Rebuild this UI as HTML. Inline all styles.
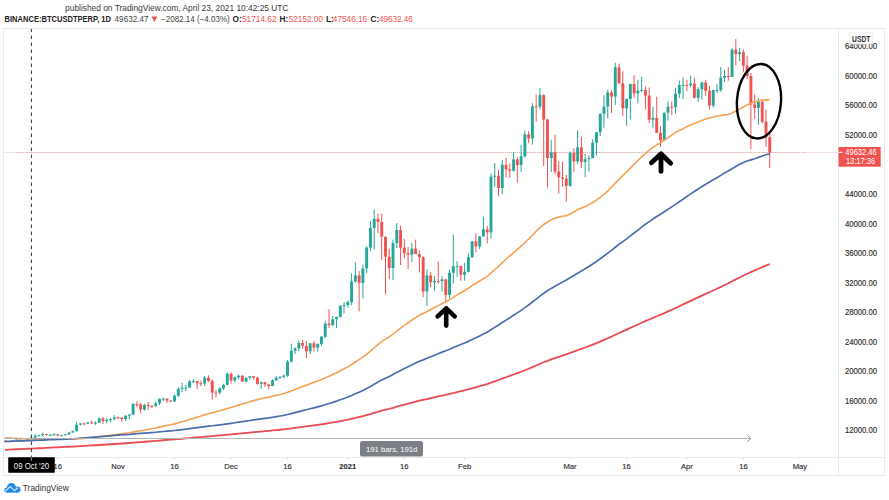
<!DOCTYPE html>
<html><head><meta charset="utf-8"><style>
html,body{margin:0;padding:0;background:#fff;width:889px;height:500px;overflow:hidden}
svg{position:absolute;left:0;top:0}
text{font-family:"Liberation Sans", sans-serif}
</style></head><body>
<svg width="889" height="500" viewBox="0 0 889 500">
<rect x="0" y="0" width="889" height="500" fill="#fff"/>
<text x="65.1" y="10.8" font-size="8.36" fill="#3a3a3a" textLength="223.4" lengthAdjust="spacingAndGlyphs">published on TradingView.com, April 23, 2021 10:42:25 UTC</text>
<g font-size="8.3" fill="#222">
<text x="4.5" y="21.8" font-weight="700" font-size="8.3" textLength="106.5" lengthAdjust="spacingAndGlyphs">BINANCE:BTCUSDTPERP, 1D</text>
<text x="114.6" y="22" fill="#444" textLength="33.9" lengthAdjust="spacingAndGlyphs">49632.47</text>
<path d="M151.5,16.6 L157.4,16.6 L154.45,22 Z" fill="#ef5350"/>
<text x="161" y="22" fill="#444" textLength="68.8" lengthAdjust="spacingAndGlyphs">−2082.14 (−4.03%)</text>
<text x="232.5" y="22" font-weight="700">O:</text><text x="241.9" y="22" fill="#ef5350" textLength="34.7" lengthAdjust="spacingAndGlyphs">51714.62</text>
<text x="279.6" y="22" font-weight="700">H:</text><text x="288.7" y="22" fill="#ef5350" textLength="34.3" lengthAdjust="spacingAndGlyphs">52152.00</text>
<text x="326" y="22" font-weight="700">L:</text><text x="332.8" y="22" fill="#ef5350" textLength="34.4" lengthAdjust="spacingAndGlyphs">47546.16</text>
<text x="370.6" y="22" font-weight="700">C:</text><text x="379" y="22" fill="#ef5350" textLength="33.7" lengthAdjust="spacingAndGlyphs">49632.46</text>
</g>
<rect x="3.5" y="28.5" width="881.0" height="447.0" fill="none" stroke="#eaeaea" stroke-width="1"/>
<line x1="838.5" y1="28.5" x2="838.5" y2="475.5" stroke="#eaeaea"/>
<line x1="3.5" y1="457.5" x2="884.5" y2="457.5" stroke="#eaeaea"/>
<defs><clipPath id="cp"><rect x="4.0" y="29.0" width="834.0" height="428.0"/></clipPath></defs>
<g clip-path="url(#cp)">
<line x1="3.5" y1="152.5" x2="838.5" y2="152.5" stroke="#f3e4e4"/>
<line x1="17" y1="152.5" x2="806" y2="152.5" stroke="#e2b2b2" stroke-dasharray="1,1"/>
<line x1="5.03" y1="440.43" x2="5.03" y2="442.64" stroke="#ef5350" stroke-width="1"/><rect x="3.58" y="440.79" width="2.9" height="1.00" fill="#ef5350"/><line x1="8.80" y1="440.94" x2="8.80" y2="441.68" stroke="#ef5350" stroke-width="1"/><rect x="7.35" y="441.16" width="2.9" height="1.00" fill="#ef5350"/><line x1="12.56" y1="440.28" x2="12.56" y2="441.46" stroke="#26a69a" stroke-width="1"/><rect x="11.11" y="440.43" width="2.9" height="1.00" fill="#26a69a"/><line x1="16.33" y1="439.46" x2="16.33" y2="440.72" stroke="#26a69a" stroke-width="1"/><rect x="14.88" y="439.54" width="2.9" height="1.00" fill="#26a69a"/><line x1="20.10" y1="439.46" x2="20.10" y2="441.46" stroke="#ef5350" stroke-width="1"/><rect x="18.65" y="439.54" width="2.9" height="1.40" fill="#ef5350"/><line x1="23.87" y1="440.35" x2="23.87" y2="441.24" stroke="#26a69a" stroke-width="1"/><rect x="22.42" y="440.43" width="2.9" height="1.00" fill="#26a69a"/><line x1="27.63" y1="438.28" x2="27.63" y2="441.46" stroke="#26a69a" stroke-width="1"/><rect x="26.18" y="438.58" width="2.9" height="1.85" fill="#26a69a"/><line x1="31.40" y1="437.17" x2="31.40" y2="439.24" stroke="#26a69a" stroke-width="1"/><rect x="29.95" y="437.62" width="2.9" height="1.00" fill="#26a69a"/><line x1="35.17" y1="434.44" x2="35.17" y2="437.62" stroke="#26a69a" stroke-width="1"/><rect x="33.72" y="435.77" width="2.9" height="1.85" fill="#26a69a"/><line x1="38.93" y1="434.74" x2="38.93" y2="435.99" stroke="#26a69a" stroke-width="1"/><rect x="37.48" y="435.18" width="2.9" height="1.00" fill="#26a69a"/><line x1="42.70" y1="432.59" x2="42.70" y2="436.29" stroke="#26a69a" stroke-width="1"/><rect x="41.25" y="434.00" width="2.9" height="1.18" fill="#26a69a"/><line x1="46.47" y1="433.85" x2="46.47" y2="435.77" stroke="#ef5350" stroke-width="1"/><rect x="45.02" y="434.00" width="2.9" height="1.00" fill="#ef5350"/><line x1="50.23" y1="433.92" x2="50.23" y2="435.99" stroke="#26a69a" stroke-width="1"/><rect x="48.78" y="434.81" width="2.9" height="1.00" fill="#26a69a"/><line x1="54.00" y1="433.33" x2="54.00" y2="435.99" stroke="#26a69a" stroke-width="1"/><rect x="52.55" y="434.29" width="2.9" height="1.00" fill="#26a69a"/><line x1="57.77" y1="434.00" x2="57.77" y2="436.36" stroke="#ef5350" stroke-width="1"/><rect x="56.32" y="434.29" width="2.9" height="1.26" fill="#ef5350"/><line x1="61.54" y1="435.03" x2="61.54" y2="435.77" stroke="#26a69a" stroke-width="1"/><rect x="60.09" y="435.25" width="2.9" height="1.00" fill="#26a69a"/><line x1="65.30" y1="434.29" x2="65.30" y2="435.40" stroke="#26a69a" stroke-width="1"/><rect x="63.85" y="434.29" width="2.9" height="1.00" fill="#26a69a"/><line x1="69.07" y1="432.08" x2="69.07" y2="435.03" stroke="#26a69a" stroke-width="1"/><rect x="67.62" y="432.45" width="2.9" height="1.85" fill="#26a69a"/><line x1="72.84" y1="430.38" x2="72.84" y2="432.89" stroke="#26a69a" stroke-width="1"/><rect x="71.39" y="431.26" width="2.9" height="1.18" fill="#26a69a"/><line x1="76.60" y1="421.74" x2="76.60" y2="431.34" stroke="#26a69a" stroke-width="1"/><rect x="75.15" y="424.69" width="2.9" height="6.57" fill="#26a69a"/><line x1="80.37" y1="423.06" x2="80.37" y2="425.43" stroke="#26a69a" stroke-width="1"/><rect x="78.92" y="423.43" width="2.9" height="1.26" fill="#26a69a"/><line x1="84.14" y1="422.99" x2="84.14" y2="425.21" stroke="#ef5350" stroke-width="1"/><rect x="82.69" y="423.43" width="2.9" height="1.00" fill="#ef5350"/><line x1="87.91" y1="421.96" x2="87.91" y2="424.03" stroke="#26a69a" stroke-width="1"/><rect x="86.45" y="422.40" width="2.9" height="1.33" fill="#26a69a"/><line x1="91.67" y1="420.63" x2="91.67" y2="423.95" stroke="#ef5350" stroke-width="1"/><rect x="90.22" y="422.40" width="2.9" height="1.00" fill="#ef5350"/><line x1="95.44" y1="421.37" x2="95.44" y2="424.84" stroke="#26a69a" stroke-width="1"/><rect x="93.99" y="422.70" width="2.9" height="1.00" fill="#26a69a"/><line x1="99.21" y1="417.38" x2="99.21" y2="422.77" stroke="#26a69a" stroke-width="1"/><rect x="97.76" y="418.48" width="2.9" height="4.21" fill="#26a69a"/><line x1="102.97" y1="416.86" x2="102.97" y2="423.95" stroke="#ef5350" stroke-width="1"/><rect x="101.52" y="418.48" width="2.9" height="2.66" fill="#ef5350"/><line x1="106.74" y1="418.41" x2="106.74" y2="423.29" stroke="#26a69a" stroke-width="1"/><rect x="105.29" y="419.81" width="2.9" height="1.33" fill="#26a69a"/><line x1="110.51" y1="418.12" x2="110.51" y2="422.33" stroke="#26a69a" stroke-width="1"/><rect x="109.06" y="419.08" width="2.9" height="1.00" fill="#26a69a"/><line x1="114.27" y1="415.09" x2="114.27" y2="420.11" stroke="#26a69a" stroke-width="1"/><rect x="112.82" y="417.30" width="2.9" height="1.77" fill="#26a69a"/><line x1="118.04" y1="416.56" x2="118.04" y2="418.93" stroke="#ef5350" stroke-width="1"/><rect x="116.59" y="417.30" width="2.9" height="1.00" fill="#ef5350"/><line x1="121.81" y1="417.15" x2="121.81" y2="421.74" stroke="#ef5350" stroke-width="1"/><rect x="120.36" y="417.60" width="2.9" height="1.55" fill="#ef5350"/><line x1="125.57" y1="415.31" x2="125.57" y2="421.07" stroke="#26a69a" stroke-width="1"/><rect x="124.12" y="415.68" width="2.9" height="3.47" fill="#26a69a"/><line x1="129.34" y1="413.90" x2="129.34" y2="419.37" stroke="#26a69a" stroke-width="1"/><rect x="127.89" y="414.72" width="2.9" height="1.00" fill="#26a69a"/><line x1="133.11" y1="402.90" x2="133.11" y2="415.16" stroke="#26a69a" stroke-width="1"/><rect x="131.66" y="404.08" width="2.9" height="10.64" fill="#26a69a"/><line x1="136.88" y1="401.27" x2="136.88" y2="407.11" stroke="#ef5350" stroke-width="1"/><rect x="135.43" y="404.08" width="2.9" height="1.00" fill="#ef5350"/><line x1="140.64" y1="402.82" x2="140.64" y2="413.31" stroke="#ef5350" stroke-width="1"/><rect x="139.19" y="404.30" width="2.9" height="5.32" fill="#ef5350"/><line x1="144.41" y1="403.64" x2="144.41" y2="410.65" stroke="#26a69a" stroke-width="1"/><rect x="142.96" y="404.89" width="2.9" height="4.73" fill="#26a69a"/><line x1="148.18" y1="402.16" x2="148.18" y2="409.92" stroke="#ef5350" stroke-width="1"/><rect x="146.73" y="404.89" width="2.9" height="1.11" fill="#ef5350"/><line x1="151.94" y1="405.04" x2="151.94" y2="407.85" stroke="#ef5350" stroke-width="1"/><rect x="150.49" y="406.00" width="2.9" height="1.00" fill="#ef5350"/><line x1="155.71" y1="401.42" x2="155.71" y2="406.37" stroke="#26a69a" stroke-width="1"/><rect x="154.26" y="403.27" width="2.9" height="2.95" fill="#26a69a"/><line x1="159.48" y1="398.46" x2="159.48" y2="405.11" stroke="#26a69a" stroke-width="1"/><rect x="158.03" y="398.91" width="2.9" height="4.36" fill="#26a69a"/><line x1="163.25" y1="397.50" x2="163.25" y2="401.42" stroke="#26a69a" stroke-width="1"/><rect x="161.80" y="398.61" width="2.9" height="1.00" fill="#26a69a"/><line x1="167.01" y1="398.54" x2="167.01" y2="403.27" stroke="#ef5350" stroke-width="1"/><rect x="165.56" y="398.61" width="2.9" height="1.92" fill="#ef5350"/><line x1="170.78" y1="400.02" x2="170.78" y2="402.08" stroke="#ef5350" stroke-width="1"/><rect x="169.33" y="400.53" width="2.9" height="1.00" fill="#ef5350"/><line x1="174.55" y1="394.55" x2="174.55" y2="402.01" stroke="#26a69a" stroke-width="1"/><rect x="173.10" y="395.66" width="2.9" height="5.61" fill="#26a69a"/><line x1="178.31" y1="387.31" x2="178.31" y2="396.99" stroke="#26a69a" stroke-width="1"/><rect x="176.86" y="388.79" width="2.9" height="6.87" fill="#26a69a"/><line x1="182.08" y1="382.73" x2="182.08" y2="392.04" stroke="#26a69a" stroke-width="1"/><rect x="180.63" y="387.75" width="2.9" height="1.03" fill="#26a69a"/><line x1="185.85" y1="384.95" x2="185.85" y2="391.08" stroke="#26a69a" stroke-width="1"/><rect x="184.40" y="387.60" width="2.9" height="1.00" fill="#26a69a"/><line x1="189.61" y1="380.22" x2="189.61" y2="387.97" stroke="#26a69a" stroke-width="1"/><rect x="188.16" y="381.25" width="2.9" height="6.35" fill="#26a69a"/><line x1="193.38" y1="379.11" x2="193.38" y2="383.25" stroke="#26a69a" stroke-width="1"/><rect x="191.93" y="381.10" width="2.9" height="1.00" fill="#26a69a"/><line x1="197.15" y1="380.73" x2="197.15" y2="389.08" stroke="#ef5350" stroke-width="1"/><rect x="195.70" y="381.10" width="2.9" height="2.07" fill="#ef5350"/><line x1="200.91" y1="380.59" x2="200.91" y2="386.27" stroke="#ef5350" stroke-width="1"/><rect x="199.47" y="383.17" width="2.9" height="1.00" fill="#ef5350"/><line x1="204.68" y1="375.78" x2="204.68" y2="386.13" stroke="#26a69a" stroke-width="1"/><rect x="203.23" y="377.71" width="2.9" height="5.84" fill="#26a69a"/><line x1="208.45" y1="375.34" x2="208.45" y2="382.06" stroke="#ef5350" stroke-width="1"/><rect x="207.00" y="377.71" width="2.9" height="3.18" fill="#ef5350"/><line x1="212.22" y1="379.48" x2="212.22" y2="399.57" stroke="#ef5350" stroke-width="1"/><rect x="210.77" y="380.88" width="2.9" height="11.67" fill="#ef5350"/><line x1="215.98" y1="390.19" x2="215.98" y2="397.73" stroke="#ef5350" stroke-width="1"/><rect x="214.53" y="392.55" width="2.9" height="1.00" fill="#ef5350"/><line x1="219.75" y1="387.24" x2="219.75" y2="394.55" stroke="#26a69a" stroke-width="1"/><rect x="218.30" y="388.34" width="2.9" height="4.28" fill="#26a69a"/><line x1="223.52" y1="383.69" x2="223.52" y2="389.89" stroke="#26a69a" stroke-width="1"/><rect x="222.07" y="384.95" width="2.9" height="3.40" fill="#26a69a"/><line x1="227.28" y1="372.53" x2="227.28" y2="384.95" stroke="#26a69a" stroke-width="1"/><rect x="225.83" y="373.72" width="2.9" height="11.23" fill="#26a69a"/><line x1="231.05" y1="372.31" x2="231.05" y2="383.84" stroke="#ef5350" stroke-width="1"/><rect x="229.60" y="373.72" width="2.9" height="6.87" fill="#ef5350"/><line x1="234.82" y1="376.60" x2="234.82" y2="382.51" stroke="#26a69a" stroke-width="1"/><rect x="233.37" y="377.26" width="2.9" height="3.32" fill="#26a69a"/><line x1="238.59" y1="374.45" x2="238.59" y2="379.26" stroke="#26a69a" stroke-width="1"/><rect x="237.14" y="375.78" width="2.9" height="1.48" fill="#26a69a"/><line x1="242.35" y1="375.05" x2="242.35" y2="382.06" stroke="#ef5350" stroke-width="1"/><rect x="240.90" y="375.78" width="2.9" height="5.69" fill="#ef5350"/><line x1="246.12" y1="377.56" x2="246.12" y2="382.58" stroke="#26a69a" stroke-width="1"/><rect x="244.67" y="377.78" width="2.9" height="3.69" fill="#26a69a"/><line x1="249.89" y1="375.78" x2="249.89" y2="379.92" stroke="#26a69a" stroke-width="1"/><rect x="248.44" y="376.23" width="2.9" height="1.55" fill="#26a69a"/><line x1="253.65" y1="376.01" x2="253.65" y2="379.63" stroke="#ef5350" stroke-width="1"/><rect x="252.20" y="376.23" width="2.9" height="1.40" fill="#ef5350"/><line x1="257.42" y1="376.82" x2="257.42" y2="384.80" stroke="#ef5350" stroke-width="1"/><rect x="255.97" y="377.63" width="2.9" height="6.28" fill="#ef5350"/><line x1="261.19" y1="381.55" x2="261.19" y2="388.86" stroke="#26a69a" stroke-width="1"/><rect x="259.74" y="382.21" width="2.9" height="1.70" fill="#26a69a"/><line x1="264.95" y1="382.14" x2="264.95" y2="386.94" stroke="#ef5350" stroke-width="1"/><rect x="263.50" y="382.21" width="2.9" height="2.22" fill="#ef5350"/><line x1="268.72" y1="384.13" x2="268.72" y2="389.45" stroke="#ef5350" stroke-width="1"/><rect x="267.27" y="384.43" width="2.9" height="1.63" fill="#ef5350"/><line x1="272.49" y1="379.26" x2="272.49" y2="386.13" stroke="#26a69a" stroke-width="1"/><rect x="271.04" y="380.37" width="2.9" height="5.69" fill="#26a69a"/><line x1="276.25" y1="375.86" x2="276.25" y2="380.96" stroke="#26a69a" stroke-width="1"/><rect x="274.81" y="377.63" width="2.9" height="2.73" fill="#26a69a"/><line x1="280.02" y1="376.30" x2="280.02" y2="378.89" stroke="#26a69a" stroke-width="1"/><rect x="278.57" y="376.89" width="2.9" height="1.00" fill="#26a69a"/><line x1="283.79" y1="374.68" x2="283.79" y2="378.52" stroke="#26a69a" stroke-width="1"/><rect x="282.34" y="375.71" width="2.9" height="1.18" fill="#26a69a"/><line x1="287.56" y1="359.98" x2="287.56" y2="376.82" stroke="#26a69a" stroke-width="1"/><rect x="286.11" y="361.60" width="2.9" height="14.11" fill="#26a69a"/><line x1="291.32" y1="343.65" x2="291.32" y2="362.41" stroke="#26a69a" stroke-width="1"/><rect x="289.87" y="350.81" width="2.9" height="10.79" fill="#26a69a"/><line x1="295.09" y1="347.27" x2="295.09" y2="354.14" stroke="#26a69a" stroke-width="1"/><rect x="293.64" y="348.38" width="2.9" height="2.44" fill="#26a69a"/><line x1="298.86" y1="340.69" x2="298.86" y2="351.18" stroke="#26a69a" stroke-width="1"/><rect x="297.41" y="342.98" width="2.9" height="5.39" fill="#26a69a"/><line x1="302.62" y1="339.73" x2="302.62" y2="348.89" stroke="#ef5350" stroke-width="1"/><rect x="301.17" y="342.98" width="2.9" height="2.81" fill="#ef5350"/><line x1="306.39" y1="341.21" x2="306.39" y2="358.20" stroke="#ef5350" stroke-width="1"/><rect x="304.94" y="345.79" width="2.9" height="5.54" fill="#ef5350"/><line x1="310.16" y1="343.13" x2="310.16" y2="354.14" stroke="#26a69a" stroke-width="1"/><rect x="308.71" y="343.28" width="2.9" height="8.05" fill="#26a69a"/><line x1="313.92" y1="341.06" x2="313.92" y2="351.55" stroke="#ef5350" stroke-width="1"/><rect x="312.47" y="343.28" width="2.9" height="4.28" fill="#ef5350"/><line x1="317.69" y1="343.50" x2="317.69" y2="351.55" stroke="#26a69a" stroke-width="1"/><rect x="316.24" y="343.94" width="2.9" height="3.62" fill="#26a69a"/><line x1="321.46" y1="336.04" x2="321.46" y2="346.16" stroke="#26a69a" stroke-width="1"/><rect x="320.01" y="336.70" width="2.9" height="7.24" fill="#26a69a"/><line x1="325.23" y1="320.75" x2="325.23" y2="338.26" stroke="#26a69a" stroke-width="1"/><rect x="323.78" y="323.56" width="2.9" height="13.15" fill="#26a69a"/><line x1="328.99" y1="309.30" x2="328.99" y2="328.28" stroke="#ef5350" stroke-width="1"/><rect x="327.54" y="323.56" width="2.9" height="1.55" fill="#ef5350"/><line x1="332.76" y1="316.09" x2="332.76" y2="326.44" stroke="#26a69a" stroke-width="1"/><rect x="331.31" y="319.20" width="2.9" height="5.91" fill="#26a69a"/><line x1="336.53" y1="316.76" x2="336.53" y2="328.06" stroke="#26a69a" stroke-width="1"/><rect x="335.08" y="316.91" width="2.9" height="2.29" fill="#26a69a"/><line x1="340.29" y1="305.09" x2="340.29" y2="317.42" stroke="#26a69a" stroke-width="1"/><rect x="338.84" y="305.83" width="2.9" height="11.08" fill="#26a69a"/><line x1="344.06" y1="302.50" x2="344.06" y2="313.14" stroke="#26a69a" stroke-width="1"/><rect x="342.61" y="305.09" width="2.9" height="1.00" fill="#26a69a"/><line x1="347.83" y1="300.58" x2="347.83" y2="307.82" stroke="#26a69a" stroke-width="1"/><rect x="346.38" y="301.98" width="2.9" height="3.10" fill="#26a69a"/><line x1="351.59" y1="273.25" x2="351.59" y2="305.38" stroke="#26a69a" stroke-width="1"/><rect x="350.14" y="281.45" width="2.9" height="20.54" fill="#26a69a"/><line x1="355.36" y1="262.31" x2="355.36" y2="282.85" stroke="#26a69a" stroke-width="1"/><rect x="353.91" y="275.46" width="2.9" height="5.98" fill="#26a69a"/><line x1="359.13" y1="271.03" x2="359.13" y2="311.44" stroke="#ef5350" stroke-width="1"/><rect x="357.68" y="275.46" width="2.9" height="7.46" fill="#ef5350"/><line x1="362.90" y1="264.82" x2="362.90" y2="298.36" stroke="#26a69a" stroke-width="1"/><rect x="361.45" y="268.44" width="2.9" height="14.48" fill="#26a69a"/><line x1="366.66" y1="246.36" x2="366.66" y2="273.32" stroke="#26a69a" stroke-width="1"/><rect x="365.21" y="247.61" width="2.9" height="20.83" fill="#26a69a"/><line x1="370.43" y1="221.09" x2="370.43" y2="251.08" stroke="#26a69a" stroke-width="1"/><rect x="368.98" y="227.96" width="2.9" height="19.65" fill="#26a69a"/><line x1="374.20" y1="209.34" x2="374.20" y2="249.61" stroke="#26a69a" stroke-width="1"/><rect x="372.75" y="218.80" width="2.9" height="9.16" fill="#26a69a"/><line x1="377.96" y1="213.56" x2="377.96" y2="233.21" stroke="#ef5350" stroke-width="1"/><rect x="376.51" y="218.80" width="2.9" height="3.18" fill="#ef5350"/><line x1="381.73" y1="213.78" x2="381.73" y2="259.87" stroke="#ef5350" stroke-width="1"/><rect x="380.28" y="221.98" width="2.9" height="14.78" fill="#ef5350"/><line x1="385.50" y1="236.60" x2="385.50" y2="294.52" stroke="#ef5350" stroke-width="1"/><rect x="384.05" y="236.75" width="2.9" height="19.95" fill="#ef5350"/><line x1="389.26" y1="248.65" x2="389.26" y2="278.93" stroke="#ef5350" stroke-width="1"/><rect x="387.81" y="256.70" width="2.9" height="11.30" fill="#ef5350"/><line x1="393.03" y1="239.63" x2="393.03" y2="280.04" stroke="#26a69a" stroke-width="1"/><rect x="391.58" y="243.03" width="2.9" height="24.97" fill="#26a69a"/><line x1="396.80" y1="223.01" x2="396.80" y2="248.13" stroke="#26a69a" stroke-width="1"/><rect x="395.35" y="229.96" width="2.9" height="13.08" fill="#26a69a"/><line x1="400.57" y1="225.60" x2="400.57" y2="265.05" stroke="#ef5350" stroke-width="1"/><rect x="399.12" y="229.96" width="2.9" height="17.66" fill="#ef5350"/><line x1="404.33" y1="238.89" x2="404.33" y2="258.03" stroke="#ef5350" stroke-width="1"/><rect x="402.88" y="247.61" width="2.9" height="5.61" fill="#ef5350"/><line x1="408.10" y1="247.02" x2="408.10" y2="269.18" stroke="#ef5350" stroke-width="1"/><rect x="406.65" y="253.23" width="2.9" height="1.55" fill="#ef5350"/><line x1="411.87" y1="242.96" x2="411.87" y2="262.16" stroke="#26a69a" stroke-width="1"/><rect x="410.42" y="248.72" width="2.9" height="6.06" fill="#26a69a"/><line x1="415.63" y1="239.63" x2="415.63" y2="254.04" stroke="#ef5350" stroke-width="1"/><rect x="414.18" y="248.72" width="2.9" height="5.32" fill="#ef5350"/><line x1="419.40" y1="250.20" x2="419.40" y2="272.51" stroke="#ef5350" stroke-width="1"/><rect x="417.95" y="254.04" width="2.9" height="3.18" fill="#ef5350"/><line x1="423.17" y1="256.25" x2="423.17" y2="297.11" stroke="#ef5350" stroke-width="1"/><rect x="421.72" y="257.22" width="2.9" height="34.28" fill="#ef5350"/><line x1="426.93" y1="269.33" x2="426.93" y2="306.12" stroke="#26a69a" stroke-width="1"/><rect x="425.48" y="275.46" width="2.9" height="16.03" fill="#26a69a"/><line x1="430.70" y1="272.06" x2="430.70" y2="287.36" stroke="#ef5350" stroke-width="1"/><rect x="429.25" y="275.46" width="2.9" height="6.80" fill="#ef5350"/><line x1="434.47" y1="275.91" x2="434.47" y2="290.98" stroke="#26a69a" stroke-width="1"/><rect x="433.02" y="280.93" width="2.9" height="1.33" fill="#26a69a"/><line x1="438.24" y1="261.57" x2="438.24" y2="283.51" stroke="#ef5350" stroke-width="1"/><rect x="436.79" y="280.93" width="2.9" height="1.00" fill="#ef5350"/><line x1="442.00" y1="276.05" x2="442.00" y2="291.42" stroke="#26a69a" stroke-width="1"/><rect x="440.55" y="279.38" width="2.9" height="1.63" fill="#26a69a"/><line x1="445.77" y1="278.71" x2="445.77" y2="303.24" stroke="#ef5350" stroke-width="1"/><rect x="444.32" y="279.38" width="2.9" height="15.51" fill="#ef5350"/><line x1="449.54" y1="269.63" x2="449.54" y2="298.51" stroke="#26a69a" stroke-width="1"/><rect x="448.09" y="272.73" width="2.9" height="22.16" fill="#26a69a"/><line x1="453.30" y1="234.61" x2="453.30" y2="283.44" stroke="#26a69a" stroke-width="1"/><rect x="451.85" y="266.23" width="2.9" height="6.50" fill="#26a69a"/><line x1="457.07" y1="261.20" x2="457.07" y2="276.72" stroke="#26a69a" stroke-width="1"/><rect x="455.62" y="266.15" width="2.9" height="1.00" fill="#26a69a"/><line x1="460.84" y1="265.86" x2="460.84" y2="280.63" stroke="#ef5350" stroke-width="1"/><rect x="459.39" y="266.15" width="2.9" height="8.64" fill="#ef5350"/><line x1="464.60" y1="262.83" x2="464.60" y2="280.63" stroke="#26a69a" stroke-width="1"/><rect x="463.15" y="271.77" width="2.9" height="3.03" fill="#26a69a"/><line x1="468.37" y1="253.37" x2="468.37" y2="272.36" stroke="#26a69a" stroke-width="1"/><rect x="466.92" y="257.14" width="2.9" height="14.63" fill="#26a69a"/><line x1="472.14" y1="241.04" x2="472.14" y2="258.03" stroke="#26a69a" stroke-width="1"/><rect x="470.69" y="241.33" width="2.9" height="15.81" fill="#26a69a"/><line x1="475.91" y1="233.35" x2="475.91" y2="252.12" stroke="#ef5350" stroke-width="1"/><rect x="474.46" y="241.33" width="2.9" height="5.10" fill="#ef5350"/><line x1="479.67" y1="236.23" x2="479.67" y2="249.09" stroke="#26a69a" stroke-width="1"/><rect x="478.22" y="236.38" width="2.9" height="10.05" fill="#26a69a"/><line x1="483.44" y1="216.73" x2="483.44" y2="236.90" stroke="#26a69a" stroke-width="1"/><rect x="481.99" y="229.36" width="2.9" height="7.02" fill="#26a69a"/><line x1="487.21" y1="225.97" x2="487.21" y2="243.33" stroke="#ef5350" stroke-width="1"/><rect x="485.76" y="229.36" width="2.9" height="2.96" fill="#ef5350"/><line x1="490.97" y1="173.51" x2="490.97" y2="238.60" stroke="#26a69a" stroke-width="1"/><rect x="489.52" y="176.69" width="2.9" height="55.63" fill="#26a69a"/><line x1="494.74" y1="163.17" x2="494.74" y2="186.81" stroke="#26a69a" stroke-width="1"/><rect x="493.29" y="175.73" width="2.9" height="1.00" fill="#26a69a"/><line x1="498.51" y1="169.75" x2="498.51" y2="196.19" stroke="#ef5350" stroke-width="1"/><rect x="497.06" y="175.73" width="2.9" height="12.34" fill="#ef5350"/><line x1="502.27" y1="160.00" x2="502.27" y2="194.20" stroke="#26a69a" stroke-width="1"/><rect x="500.82" y="164.80" width="2.9" height="23.27" fill="#26a69a"/><line x1="506.04" y1="157.63" x2="506.04" y2="177.58" stroke="#ef5350" stroke-width="1"/><rect x="504.59" y="164.80" width="2.9" height="4.51" fill="#ef5350"/><line x1="509.81" y1="163.54" x2="509.81" y2="177.95" stroke="#ef5350" stroke-width="1"/><rect x="508.36" y="169.30" width="2.9" height="1.48" fill="#ef5350"/><line x1="513.58" y1="152.02" x2="513.58" y2="171.67" stroke="#26a69a" stroke-width="1"/><rect x="512.13" y="159.33" width="2.9" height="11.45" fill="#26a69a"/><line x1="517.34" y1="157.26" x2="517.34" y2="182.60" stroke="#ef5350" stroke-width="1"/><rect x="515.89" y="159.33" width="2.9" height="5.76" fill="#ef5350"/><line x1="521.11" y1="145.07" x2="521.11" y2="172.04" stroke="#26a69a" stroke-width="1"/><rect x="519.66" y="156.23" width="2.9" height="8.87" fill="#26a69a"/><line x1="524.88" y1="130.52" x2="524.88" y2="157.78" stroke="#26a69a" stroke-width="1"/><rect x="523.43" y="134.36" width="2.9" height="21.87" fill="#26a69a"/><line x1="528.64" y1="131.18" x2="528.64" y2="143.23" stroke="#ef5350" stroke-width="1"/><rect x="527.19" y="134.36" width="2.9" height="4.06" fill="#ef5350"/><line x1="532.41" y1="103.11" x2="532.41" y2="144.70" stroke="#26a69a" stroke-width="1"/><rect x="530.96" y="106.29" width="2.9" height="32.14" fill="#26a69a"/><line x1="536.18" y1="94.47" x2="536.18" y2="121.80" stroke="#ef5350" stroke-width="1"/><rect x="534.73" y="106.29" width="2.9" height="1.00" fill="#ef5350"/><line x1="539.94" y1="88.19" x2="539.94" y2="109.39" stroke="#26a69a" stroke-width="1"/><rect x="538.49" y="95.13" width="2.9" height="11.60" fill="#26a69a"/><line x1="543.71" y1="94.25" x2="543.71" y2="166.13" stroke="#ef5350" stroke-width="1"/><rect x="542.26" y="95.13" width="2.9" height="24.53" fill="#ef5350"/><line x1="547.48" y1="118.85" x2="547.48" y2="187.63" stroke="#ef5350" stroke-width="1"/><rect x="546.03" y="119.66" width="2.9" height="38.42" fill="#ef5350"/><line x1="551.25" y1="139.75" x2="551.25" y2="172.04" stroke="#26a69a" stroke-width="1"/><rect x="549.80" y="152.24" width="2.9" height="5.84" fill="#26a69a"/><line x1="555.01" y1="134.73" x2="555.01" y2="174.18" stroke="#ef5350" stroke-width="1"/><rect x="553.56" y="152.24" width="2.9" height="19.36" fill="#ef5350"/><line x1="558.78" y1="161.40" x2="558.78" y2="193.46" stroke="#ef5350" stroke-width="1"/><rect x="557.33" y="171.59" width="2.9" height="5.76" fill="#ef5350"/><line x1="562.55" y1="161.69" x2="562.55" y2="186.81" stroke="#ef5350" stroke-width="1"/><rect x="561.10" y="177.36" width="2.9" height="1.33" fill="#ef5350"/><line x1="566.31" y1="174.99" x2="566.31" y2="201.59" stroke="#ef5350" stroke-width="1"/><rect x="564.86" y="178.69" width="2.9" height="7.09" fill="#ef5350"/><line x1="570.08" y1="151.43" x2="570.08" y2="186.81" stroke="#26a69a" stroke-width="1"/><rect x="568.63" y="152.90" width="2.9" height="32.87" fill="#26a69a"/><line x1="573.85" y1="148.40" x2="573.85" y2="171.67" stroke="#ef5350" stroke-width="1"/><rect x="572.40" y="152.90" width="2.9" height="8.50" fill="#ef5350"/><line x1="577.62" y1="130.37" x2="577.62" y2="163.91" stroke="#26a69a" stroke-width="1"/><rect x="576.16" y="147.29" width="2.9" height="14.11" fill="#26a69a"/><line x1="581.38" y1="136.80" x2="581.38" y2="168.34" stroke="#ef5350" stroke-width="1"/><rect x="579.93" y="147.29" width="2.9" height="14.63" fill="#ef5350"/><line x1="585.15" y1="153.94" x2="585.15" y2="177.21" stroke="#26a69a" stroke-width="1"/><rect x="583.70" y="159.11" width="2.9" height="2.81" fill="#26a69a"/><line x1="588.92" y1="155.78" x2="588.92" y2="171.52" stroke="#26a69a" stroke-width="1"/><rect x="587.47" y="158.15" width="2.9" height="1.00" fill="#26a69a"/><line x1="592.68" y1="139.16" x2="592.68" y2="158.15" stroke="#26a69a" stroke-width="1"/><rect x="591.23" y="142.71" width="2.9" height="15.44" fill="#26a69a"/><line x1="596.45" y1="132.15" x2="596.45" y2="155.27" stroke="#26a69a" stroke-width="1"/><rect x="595.00" y="132.29" width="2.9" height="10.42" fill="#26a69a"/><line x1="600.22" y1="113.68" x2="600.22" y2="136.21" stroke="#26a69a" stroke-width="1"/><rect x="598.77" y="113.82" width="2.9" height="18.47" fill="#26a69a"/><line x1="603.98" y1="95.28" x2="603.98" y2="127.71" stroke="#26a69a" stroke-width="1"/><rect x="602.53" y="106.58" width="2.9" height="7.24" fill="#26a69a"/><line x1="607.75" y1="89.67" x2="607.75" y2="118.33" stroke="#26a69a" stroke-width="1"/><rect x="606.30" y="92.47" width="2.9" height="14.11" fill="#26a69a"/><line x1="611.52" y1="90.41" x2="611.52" y2="112.94" stroke="#ef5350" stroke-width="1"/><rect x="610.07" y="92.47" width="2.9" height="4.06" fill="#ef5350"/><line x1="615.28" y1="62.70" x2="615.28" y2="104.96" stroke="#26a69a" stroke-width="1"/><rect x="613.83" y="67.21" width="2.9" height="29.33" fill="#26a69a"/><line x1="619.05" y1="63.59" x2="619.05" y2="83.68" stroke="#ef5350" stroke-width="1"/><rect x="617.60" y="67.21" width="2.9" height="16.18" fill="#ef5350"/><line x1="622.82" y1="71.35" x2="622.82" y2="116.11" stroke="#ef5350" stroke-width="1"/><rect x="621.37" y="83.39" width="2.9" height="24.90" fill="#ef5350"/><line x1="626.59" y1="98.61" x2="626.59" y2="125.72" stroke="#26a69a" stroke-width="1"/><rect x="625.14" y="98.90" width="2.9" height="9.38" fill="#26a69a"/><line x1="630.35" y1="83.54" x2="630.35" y2="119.44" stroke="#26a69a" stroke-width="1"/><rect x="628.90" y="84.05" width="2.9" height="14.85" fill="#26a69a"/><line x1="634.12" y1="75.26" x2="634.12" y2="98.01" stroke="#ef5350" stroke-width="1"/><rect x="632.67" y="84.05" width="2.9" height="9.31" fill="#ef5350"/><line x1="637.89" y1="79.92" x2="637.89" y2="103.56" stroke="#26a69a" stroke-width="1"/><rect x="636.44" y="90.55" width="2.9" height="2.81" fill="#26a69a"/><line x1="641.65" y1="76.89" x2="641.65" y2="92.10" stroke="#26a69a" stroke-width="1"/><rect x="640.20" y="90.04" width="2.9" height="1.00" fill="#26a69a"/><line x1="645.42" y1="86.42" x2="645.42" y2="109.61" stroke="#ef5350" stroke-width="1"/><rect x="643.97" y="90.04" width="2.9" height="5.54" fill="#ef5350"/><line x1="649.19" y1="87.60" x2="649.19" y2="122.91" stroke="#ef5350" stroke-width="1"/><rect x="647.74" y="95.58" width="2.9" height="24.16" fill="#ef5350"/><line x1="652.95" y1="106.81" x2="652.95" y2="127.71" stroke="#26a69a" stroke-width="1"/><rect x="651.50" y="117.81" width="2.9" height="1.92" fill="#26a69a"/><line x1="656.72" y1="96.69" x2="656.72" y2="127.93" stroke="#ef5350" stroke-width="1"/><rect x="655.27" y="117.81" width="2.9" height="15.07" fill="#ef5350"/><line x1="660.49" y1="126.01" x2="660.49" y2="146.70" stroke="#ef5350" stroke-width="1"/><rect x="659.04" y="132.88" width="2.9" height="7.39" fill="#ef5350"/><line x1="664.26" y1="112.35" x2="664.26" y2="140.27" stroke="#26a69a" stroke-width="1"/><rect x="662.81" y="112.72" width="2.9" height="27.56" fill="#26a69a"/><line x1="668.02" y1="101.04" x2="668.02" y2="120.55" stroke="#26a69a" stroke-width="1"/><rect x="666.57" y="106.73" width="2.9" height="5.98" fill="#26a69a"/><line x1="671.79" y1="101.41" x2="671.79" y2="115.23" stroke="#ef5350" stroke-width="1"/><rect x="670.34" y="106.73" width="2.9" height="1.00" fill="#ef5350"/><line x1="675.56" y1="87.82" x2="675.56" y2="113.68" stroke="#26a69a" stroke-width="1"/><rect x="674.11" y="93.58" width="2.9" height="13.59" fill="#26a69a"/><line x1="679.32" y1="80.65" x2="679.32" y2="98.16" stroke="#26a69a" stroke-width="1"/><rect x="677.87" y="85.01" width="2.9" height="8.57" fill="#26a69a"/><line x1="683.09" y1="77.48" x2="683.09" y2="99.12" stroke="#26a69a" stroke-width="1"/><rect x="681.64" y="84.86" width="2.9" height="1.00" fill="#26a69a"/><line x1="686.86" y1="79.77" x2="686.86" y2="91.29" stroke="#ef5350" stroke-width="1"/><rect x="685.41" y="84.86" width="2.9" height="1.00" fill="#ef5350"/><line x1="690.62" y1="75.70" x2="690.62" y2="87.45" stroke="#26a69a" stroke-width="1"/><rect x="689.17" y="83.61" width="2.9" height="1.70" fill="#26a69a"/><line x1="694.39" y1="77.55" x2="694.39" y2="98.46" stroke="#ef5350" stroke-width="1"/><rect x="692.94" y="83.61" width="2.9" height="14.11" fill="#ef5350"/><line x1="698.16" y1="87.08" x2="698.16" y2="101.86" stroke="#26a69a" stroke-width="1"/><rect x="696.71" y="89.30" width="2.9" height="8.42" fill="#26a69a"/><line x1="701.93" y1="81.54" x2="701.93" y2="99.64" stroke="#26a69a" stroke-width="1"/><rect x="700.48" y="82.43" width="2.9" height="6.87" fill="#26a69a"/><line x1="705.69" y1="79.92" x2="705.69" y2="95.80" stroke="#ef5350" stroke-width="1"/><rect x="704.24" y="82.43" width="2.9" height="8.42" fill="#ef5350"/><line x1="709.46" y1="85.97" x2="709.46" y2="109.47" stroke="#ef5350" stroke-width="1"/><rect x="708.01" y="90.85" width="2.9" height="14.70" fill="#ef5350"/><line x1="713.23" y1="89.67" x2="713.23" y2="107.77" stroke="#26a69a" stroke-width="1"/><rect x="711.78" y="90.11" width="2.9" height="15.44" fill="#26a69a"/><line x1="716.99" y1="84.35" x2="716.99" y2="93.14" stroke="#26a69a" stroke-width="1"/><rect x="715.54" y="90.11" width="2.9" height="1.00" fill="#26a69a"/><line x1="720.76" y1="66.99" x2="720.76" y2="91.74" stroke="#26a69a" stroke-width="1"/><rect x="719.31" y="77.70" width="2.9" height="12.41" fill="#26a69a"/><line x1="724.53" y1="70.16" x2="724.53" y2="81.91" stroke="#26a69a" stroke-width="1"/><rect x="723.08" y="76.00" width="2.9" height="1.70" fill="#26a69a"/><line x1="728.29" y1="67.14" x2="728.29" y2="80.65" stroke="#ef5350" stroke-width="1"/><rect x="726.84" y="76.00" width="2.9" height="1.03" fill="#ef5350"/><line x1="732.06" y1="48.15" x2="732.06" y2="77.03" stroke="#26a69a" stroke-width="1"/><rect x="730.61" y="49.55" width="2.9" height="27.48" fill="#26a69a"/><line x1="735.83" y1="39.06" x2="735.83" y2="65.66" stroke="#ef5350" stroke-width="1"/><rect x="734.38" y="49.55" width="2.9" height="4.58" fill="#ef5350"/><line x1="739.60" y1="47.93" x2="739.60" y2="61.08" stroke="#26a69a" stroke-width="1"/><rect x="738.15" y="52.14" width="2.9" height="1.99" fill="#26a69a"/><line x1="743.36" y1="49.48" x2="743.36" y2="72.31" stroke="#ef5350" stroke-width="1"/><rect x="741.91" y="52.14" width="2.9" height="13.52" fill="#ef5350"/><line x1="747.13" y1="56.05" x2="747.13" y2="78.95" stroke="#ef5350" stroke-width="1"/><rect x="745.68" y="65.66" width="2.9" height="10.34" fill="#ef5350"/><line x1="750.90" y1="73.05" x2="750.90" y2="149.14" stroke="#ef5350" stroke-width="1"/><rect x="749.45" y="76.00" width="2.9" height="28.44" fill="#ef5350"/><line x1="754.66" y1="94.25" x2="754.66" y2="118.85" stroke="#ef5350" stroke-width="1"/><rect x="753.21" y="104.44" width="2.9" height="3.47" fill="#ef5350"/><line x1="758.43" y1="97.79" x2="758.43" y2="124.76" stroke="#26a69a" stroke-width="1"/><rect x="756.98" y="101.86" width="2.9" height="6.06" fill="#26a69a"/><line x1="762.20" y1="99.94" x2="762.20" y2="123.28" stroke="#ef5350" stroke-width="1"/><rect x="760.75" y="101.86" width="2.9" height="19.95" fill="#ef5350"/><line x1="765.96" y1="109.61" x2="765.96" y2="146.92" stroke="#ef5350" stroke-width="1"/><rect x="764.51" y="121.80" width="2.9" height="15.51" fill="#ef5350"/><line x1="769.73" y1="133.98" x2="769.73" y2="168.00" stroke="#ef5350" stroke-width="1"/><rect x="768.28" y="137.21" width="2.9" height="15.38" fill="#ef5350"/>
<polyline points="5.03,437.84 8.80,438.02 12.56,438.20 16.33,438.36 20.10,438.61 23.87,438.80 27.63,438.92 31.40,439.04 35.17,439.08 38.93,439.12 42.70,439.14 46.47,439.18 50.23,439.17 54.00,439.16 57.77,439.16 61.54,439.19 65.30,439.18 69.07,439.18 72.84,439.14 76.60,439.01 80.37,438.78 84.14,438.37 87.91,437.98 91.67,437.55 95.44,437.14 99.21,436.66 102.97,436.19 106.74,435.71 110.51,435.24 114.27,434.73 118.04,434.24 121.81,433.77 125.57,433.27 129.34,432.78 133.11,432.09 136.88,431.41 140.64,430.83 144.41,430.18 148.18,429.53 151.94,428.81 155.71,428.05 159.48,427.15 163.25,426.33 167.01,425.53 170.78,424.76 174.55,423.88 178.31,422.85 182.08,421.82 185.85,420.78 189.61,419.59 193.38,418.39 197.15,417.22 200.91,416.09 204.68,414.85 208.45,413.65 212.22,412.69 215.98,411.77 219.75,410.79 223.52,409.77 227.28,408.54 231.05,407.47 234.82,406.32 238.59,405.14 242.35,404.08 246.12,402.93 249.89,401.75 253.65,400.61 257.42,399.64 261.19,398.66 264.95,397.86 268.72,397.11 272.49,396.24 276.25,395.35 280.02,394.42 283.79,393.49 287.56,392.35 291.32,390.94 295.09,389.51 298.86,387.99 302.62,386.56 306.39,385.23 310.16,383.72 313.92,382.36 317.69,380.94 321.46,379.59 325.23,377.98 328.99,376.29 332.76,374.57 336.53,372.79 340.29,370.78 344.06,368.82 347.83,366.88 351.59,364.54 355.36,362.04 359.13,359.67 362.90,357.13 366.66,354.30 370.43,351.11 374.20,347.73 377.96,344.54 381.73,341.66 385.50,339.13 389.26,336.82 393.03,334.12 396.80,331.11 400.57,328.21 404.33,325.42 408.10,322.75 411.87,320.02 415.63,317.63 419.40,315.16 423.17,313.45 426.93,311.44 430.70,309.46 434.47,307.52 438.24,305.61 442.00,303.65 445.77,301.87 449.54,299.68 453.30,297.31 457.07,294.92 460.84,292.81 464.60,290.69 468.37,288.29 472.14,285.61 475.91,283.30 479.67,281.01 483.44,278.63 487.21,276.42 490.97,273.04 494.74,269.53 498.51,266.42 502.27,262.77 506.04,259.27 509.81,255.96 513.58,252.67 517.34,249.47 521.11,246.21 524.88,242.56 528.64,239.21 532.41,235.24 536.18,231.33 539.94,227.60 543.71,224.49 547.48,221.99 551.25,219.67 555.01,218.15 558.78,217.14 562.55,216.33 566.31,215.61 570.08,213.93 573.85,212.03 577.62,209.61 581.38,207.99 585.15,206.57 588.92,204.78 592.68,202.57 596.45,200.12 600.22,197.43 603.98,194.48 607.75,191.18 611.52,187.28 615.28,183.12 619.05,179.14 622.82,175.69 626.59,172.04 630.35,168.14 634.12,164.11 637.89,160.46 641.65,156.94 645.42,153.53 649.19,150.43 652.95,147.35 656.72,144.86 660.49,142.84 664.26,140.17 668.02,137.57 671.79,135.13 675.56,132.36 679.32,130.52 683.09,128.71 686.86,126.65 690.62,125.03 694.39,123.59 698.16,121.97 701.93,120.43 705.69,118.94 709.46,117.93 713.23,117.04 716.99,116.08 720.76,115.51 724.53,114.89 728.29,114.53 732.06,113.13 735.83,111.05 739.60,109.05 743.36,106.93 747.13,104.90 750.90,103.42 754.66,101.86 758.43,100.84 762.20,100.04 765.96,99.85 769.73,99.66" fill="none" stroke="#f5a153" stroke-width="1.6"/>
<polyline points="5.03,441.41 8.80,441.31 12.56,441.20 16.33,441.07 20.10,440.96 23.87,440.85 27.63,440.72 31.40,440.58 35.17,440.42 38.93,440.25 42.70,440.07 46.47,439.90 50.23,439.74 54.00,439.58 57.77,439.44 61.54,439.28 65.30,439.12 69.07,438.93 72.84,438.74 76.60,438.48 80.37,438.20 84.14,437.92 87.91,437.63 91.67,437.34 95.44,437.06 99.21,436.73 102.97,436.42 106.74,436.12 110.51,435.83 114.27,435.51 118.04,435.20 121.81,434.92 125.57,434.62 129.34,434.39 133.11,434.04 136.88,433.71 140.64,433.44 144.41,433.13 148.18,432.87 151.94,432.56 155.71,432.23 159.48,431.85 163.25,431.51 167.01,431.19 170.78,430.87 174.55,430.50 178.31,430.06 182.08,429.62 185.85,429.15 189.61,428.62 193.38,428.11 197.15,427.62 200.91,427.14 204.68,426.61 208.45,426.13 212.22,425.75 215.98,425.35 219.75,424.91 223.52,424.42 227.28,423.83 231.05,423.30 234.82,422.75 238.59,422.15 242.35,421.62 246.12,421.05 249.89,420.47 253.65,419.90 257.42,419.41 261.19,418.90 264.95,418.43 268.72,417.94 272.49,417.30 276.25,416.66 280.02,415.99 283.79,415.31 287.56,414.50 291.32,413.57 295.09,412.61 298.86,411.61 302.62,410.65 306.39,409.74 310.16,408.74 313.92,407.81 317.69,406.86 321.46,405.84 325.23,404.69 328.99,403.56 332.76,402.38 336.53,401.16 340.29,399.80 344.06,398.43 347.83,397.02 351.59,395.43 355.36,393.78 359.13,392.21 362.90,390.50 366.66,388.57 370.43,386.46 374.20,384.25 377.96,382.07 381.73,380.02 385.50,378.18 389.26,376.45 393.03,374.49 396.80,372.38 400.57,370.45 404.33,368.59 408.10,366.77 411.87,364.90 415.63,363.08 419.40,361.32 423.17,359.88 426.93,358.29 430.70,356.77 434.47,355.22 438.24,353.68 442.00,352.13 445.77,350.76 449.54,349.17 453.30,347.59 457.07,346.01 460.84,344.52 464.60,343.02 468.37,341.36 472.14,339.55 475.91,337.82 479.67,335.98 483.44,334.07 487.21,332.21 490.97,329.80 494.74,327.38 498.51,325.07 502.27,322.56 506.04,320.11 509.81,317.77 513.58,315.32 517.34,312.88 521.11,310.39 524.88,307.68 528.64,305.00 532.41,302.03 536.18,299.11 539.94,296.07 543.71,293.26 547.48,290.83 551.25,288.40 555.01,286.22 558.78,284.12 562.55,282.03 566.31,280.08 570.08,277.79 573.85,275.58 577.62,273.21 581.38,271.06 585.15,268.84 588.92,266.49 592.68,264.00 596.45,261.44 600.22,258.72 603.98,256.05 607.75,253.17 611.52,250.36 615.28,247.28 619.05,244.30 622.82,241.60 626.59,238.83 630.35,235.89 634.12,232.99 637.89,230.07 641.65,227.13 645.42,224.22 649.19,221.62 652.95,219.02 656.72,216.58 660.49,214.22 664.26,211.73 668.02,209.29 671.79,206.88 675.56,204.39 679.32,201.78 683.09,199.12 686.86,196.54 690.62,193.90 694.39,191.43 698.16,188.96 701.93,186.55 705.69,184.21 709.46,182.07 713.23,179.80 716.99,177.64 720.76,175.37 724.53,173.11 728.29,171.07 732.06,168.81 735.83,166.52 739.60,164.36 743.36,162.54 747.13,161.02 750.90,159.87 754.66,158.73 758.43,157.38 762.20,156.04 765.96,154.73 769.73,153.82" fill="none" stroke="#4b6fae" stroke-width="1.7"/>
<polyline points="5.03,449.81 8.80,449.62 12.56,449.42 16.33,449.25 20.10,449.09 23.87,448.92 27.63,448.74 31.40,448.57 35.17,448.40 38.93,448.23 42.70,448.05 46.47,447.86 50.23,447.67 54.00,447.46 57.77,447.28 61.54,447.10 65.30,446.92 69.07,446.74 72.84,446.55 76.60,446.33 80.37,446.10 84.14,445.89 87.91,445.67 91.67,445.46 95.44,445.25 99.21,445.00 102.97,444.76 106.74,444.52 110.51,444.27 114.27,444.02 118.04,443.75 121.81,443.52 125.57,443.26 129.34,443.01 133.11,442.69 136.88,442.37 140.64,442.08 144.41,441.77 148.18,441.48 151.94,441.19 155.71,440.89 159.48,440.57 163.25,440.26 167.01,439.95 170.78,439.68 174.55,439.38 178.31,439.06 182.08,438.73 185.85,438.40 189.61,438.04 193.38,437.68 197.15,437.34 200.91,437.03 204.68,436.69 208.45,436.35 212.22,436.04 215.98,435.72 219.75,435.39 223.52,435.06 227.28,434.70 231.05,434.35 234.82,433.98 238.59,433.62 242.35,433.29 246.12,432.95 249.89,432.58 253.65,432.21 257.42,431.87 261.19,431.53 264.95,431.17 268.72,430.84 272.49,430.47 276.25,430.10 280.02,429.74 283.79,429.37 287.56,428.94 291.32,428.45 295.09,427.97 298.86,427.44 302.62,426.93 306.39,426.45 310.16,425.93 313.92,425.43 317.69,424.91 321.46,424.36 325.23,423.74 328.99,423.14 332.76,422.48 336.53,421.82 340.29,421.10 344.06,420.38 347.83,419.64 351.59,418.80 355.36,417.93 359.13,417.10 362.90,416.19 366.66,415.17 370.43,414.06 374.20,412.92 377.96,411.78 381.73,410.72 385.50,409.74 389.26,408.83 393.03,407.78 396.80,406.67 400.57,405.65 404.33,404.66 408.10,403.68 411.87,402.66 415.63,401.67 419.40,400.69 423.17,399.89 426.93,399.02 430.70,398.17 434.47,397.33 438.24,396.48 442.00,395.62 445.77,394.84 449.54,393.95 453.30,393.03 457.07,392.11 460.84,391.22 464.60,390.32 468.37,389.35 472.14,388.30 475.91,387.28 479.67,386.20 483.44,385.10 487.21,384.02 490.97,382.66 494.74,381.29 498.51,379.99 502.27,378.59 506.04,377.25 509.81,375.91 513.58,374.52 517.34,373.16 521.11,371.76 524.88,370.27 528.64,368.78 532.41,367.13 536.18,365.48 539.94,363.79 543.71,362.23 547.48,360.85 551.25,359.45 555.01,358.14 558.78,356.87 562.55,355.59 566.31,354.35 570.08,352.95 573.85,351.60 577.62,350.18 581.38,348.83 585.15,347.48 588.92,346.12 592.68,344.67 596.45,343.17 600.22,341.57 603.98,339.94 607.75,338.24 611.52,336.56 615.28,334.72 619.05,332.96 622.82,331.32 626.59,329.65 630.35,327.90 634.12,326.20 637.89,324.49 641.65,322.78 645.42,321.08 649.19,319.46 652.95,317.84 656.72,316.28 660.49,314.77 664.26,313.12 668.02,311.43 671.79,309.75 675.56,308.00 679.32,306.21 683.09,304.43 686.86,302.64 690.62,300.86 694.39,299.15 698.16,297.40 701.93,295.62 705.69,293.88 709.46,292.22 713.23,290.48 716.99,288.72 720.76,286.90 724.53,285.06 728.29,283.25 732.06,281.30 735.83,279.37 739.60,277.43 743.36,275.56 747.13,273.74 750.90,272.06 754.66,270.40 758.43,268.70 762.20,267.11 765.96,265.59 769.73,264.16" fill="none" stroke="#ea4a52" stroke-width="1.8"/>
<line x1="31.4" y1="28.5" x2="31.4" y2="457.5" stroke="#333" stroke-dasharray="3.5,3.5" stroke-width="1"/>
<line x1="3.5" y1="438.5" x2="750.5" y2="438.5" stroke="#b4b4b4" stroke-width="1"/>
<path d="M747.5,435.5 L750.6,438.5 L747.5,441.5" fill="none" stroke="#8a8a8a" stroke-width="1"/>
<rect x="360" y="441" width="63" height="15.6" rx="2.2" fill="#7d7f87"/>
<text x="391.7" y="451.6" font-size="8" fill="#fff" text-anchor="middle" textLength="51.3" lengthAdjust="spacingAndGlyphs">191 bars, 191d</text>
<ellipse cx="759" cy="101.2" rx="22" ry="37.3" fill="none" stroke="#000" stroke-width="2.4" transform="rotate(4 759 101.2)"/>
<path d="M437.7,316.4 L446.2,308.4 L454.7,316.4 M446.2,308.4 L446.2,325.6" fill="none" stroke="#000" stroke-width="4.6" stroke-linecap="round" stroke-linejoin="round"/>
<path d="M651.4,162.8 L661,153.8 L670.6,163.2 M661,153.8 L661,171.4" fill="none" stroke="#000" stroke-width="4.8" stroke-linecap="round" stroke-linejoin="round"/>
</g>
<g font-size="8.6" fill="#2e2e2e" stroke="#2e2e2e" stroke-width="0.15" text-anchor="middle">
<text x="861" y="49.25" textLength="32.2" lengthAdjust="spacingAndGlyphs">64000.00</text><text x="861" y="78.80" textLength="32.2" lengthAdjust="spacingAndGlyphs">60000.00</text><text x="861" y="108.35" textLength="32.2" lengthAdjust="spacingAndGlyphs">56000.00</text><text x="861" y="137.90" textLength="32.2" lengthAdjust="spacingAndGlyphs">52000.00</text><text x="861" y="197.00" textLength="32.2" lengthAdjust="spacingAndGlyphs">44000.00</text><text x="861" y="226.55" textLength="32.2" lengthAdjust="spacingAndGlyphs">40000.00</text><text x="861" y="256.10" textLength="32.2" lengthAdjust="spacingAndGlyphs">36000.00</text><text x="861" y="285.65" textLength="32.2" lengthAdjust="spacingAndGlyphs">32000.00</text><text x="861" y="315.20" textLength="32.2" lengthAdjust="spacingAndGlyphs">28000.00</text><text x="861" y="344.75" textLength="32.2" lengthAdjust="spacingAndGlyphs">24000.00</text><text x="861" y="374.30" textLength="32.2" lengthAdjust="spacingAndGlyphs">20000.00</text><text x="861" y="403.85" textLength="32.2" lengthAdjust="spacingAndGlyphs">16000.00</text><text x="861" y="433.40" textLength="32.2" lengthAdjust="spacingAndGlyphs">12000.00</text>
</g>
<rect x="849.6" y="32.8" width="22.6" height="11.1" fill="#fff" stroke="#eaeaea" stroke-width="0.8"/>
<text x="861.2" y="41.8" font-size="8.6" fill="#333" text-anchor="middle" font-weight="700" textLength="18.3" lengthAdjust="spacingAndGlyphs">USDT</text>
<rect x="838.5" y="147" width="42.2" height="19.7" fill="#ef5350"/>
<line x1="838.5" y1="152.3" x2="842.5" y2="152.3" stroke="#fff" stroke-width="1"/>
<text x="861" y="155.4" font-size="8.2" fill="#fff" text-anchor="middle" textLength="31.5" lengthAdjust="spacingAndGlyphs">49632.46</text>
<text x="860.5" y="164.3" font-size="8.2" fill="#fff" text-anchor="middle" textLength="29.2" lengthAdjust="spacingAndGlyphs">13:17:36</text>
<g stroke="#d8d8d8">
<line x1="57.8" y1="457.5" x2="57.8" y2="459.5"/><line x1="118.0" y1="457.5" x2="118.0" y2="459.5"/><line x1="174.5" y1="457.5" x2="174.5" y2="459.5"/><line x1="231.1" y1="457.5" x2="231.1" y2="459.5"/><line x1="287.6" y1="457.5" x2="287.6" y2="459.5"/><line x1="347.8" y1="457.5" x2="347.8" y2="459.5"/><line x1="404.3" y1="457.5" x2="404.3" y2="459.5"/><line x1="464.6" y1="457.5" x2="464.6" y2="459.5"/><line x1="570.1" y1="457.5" x2="570.1" y2="459.5"/><line x1="626.6" y1="457.5" x2="626.6" y2="459.5"/><line x1="686.9" y1="457.5" x2="686.9" y2="459.5"/><line x1="743.4" y1="457.5" x2="743.4" y2="459.5"/><line x1="799.9" y1="457.5" x2="799.9" y2="459.5"/>
</g>
<g font-size="7.6" fill="#2e2e2e" stroke="#2e2e2e" stroke-width="0.15" text-anchor="middle">
<text x="57.8" y="469.3" font-weight="400">16</text><text x="118.0" y="469.3" font-weight="400">Nov</text><text x="174.5" y="469.3" font-weight="400">16</text><text x="231.1" y="469.3" font-weight="400">Dec</text><text x="287.6" y="469.3" font-weight="400">16</text><text x="347.8" y="469.3" font-weight="700">2021</text><text x="404.3" y="469.3" font-weight="400">16</text><text x="464.6" y="469.3" font-weight="400">Feb</text><text x="570.1" y="469.3" font-weight="400">Mar</text><text x="626.6" y="469.3" font-weight="400">16</text><text x="686.9" y="469.3" font-weight="400">Apr</text><text x="743.4" y="469.3" font-weight="400">16</text><text x="799.9" y="469.3" font-weight="400">May</text>
</g>
<rect x="8.2" y="457.2" width="46.6" height="15.6" rx="0.8" fill="#000"/>
<line x1="31.4" y1="457.5" x2="31.4" y2="460.8" stroke="#9a9a9a" stroke-width="1"/>
<text x="31.5" y="468.8" font-size="8.5" fill="#f2f2f2" text-anchor="middle" textLength="35.4" lengthAdjust="spacingAndGlyphs">09 Oct &#39;20</text>
<g fill="#2389e6">
<circle cx="6.9" cy="490" r="2.6"/>
<circle cx="11.4" cy="487.7" r="4.6"/>
<circle cx="17.4" cy="489.5" r="3.1"/>
<rect x="6.9" y="488.5" width="10.5" height="4.1"/>
</g>
<polyline points="5.4,491.2 10.3,486.5 14.4,490.6 17.6,488" fill="none" stroke="#e4f2ff" stroke-width="1.05" stroke-linejoin="round" stroke-linecap="round"/>
<text x="22.8" y="490.8" font-size="8.6" fill="#333" textLength="46" lengthAdjust="spacingAndGlyphs">TradingView</text>
</svg>
</body></html>
